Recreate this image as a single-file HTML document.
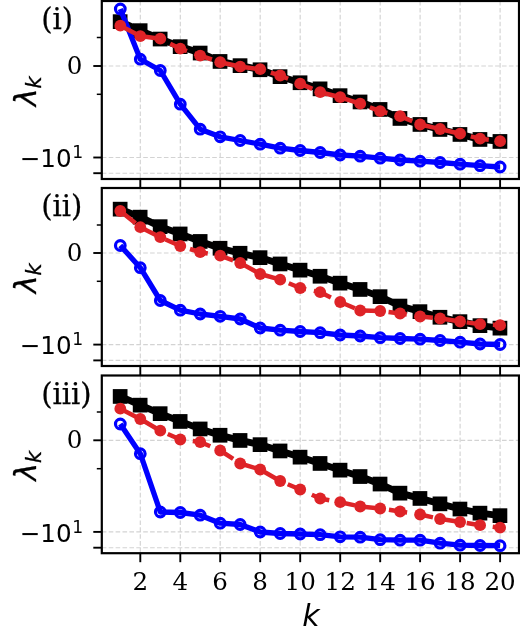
<!DOCTYPE html>
<html lang="en"><head><meta charset="utf-8"><title>lambda_k vs k</title>
<style>
html,body{margin:0;padding:0;background:#fff;}
body{width:520px;height:626px;overflow:hidden;}
svg{display:block;}
.sans{font-family:"DejaVu Sans","Liberation Sans",sans-serif;}
.serif{font-family:"DejaVu Serif","Liberation Serif",serif;}
.it{font-style:italic;}
</style></head><body>
<svg width="520" height="626" viewBox="0 0 520 626">
<rect width="520" height="626" fill="#fff"/>

<g id="panel1">
<line x1="140.3" y1="1.0" x2="140.3" y2="179.0" stroke="#d3d3d3" stroke-width="1.15" stroke-dasharray="4.6 2.3" fill="none"/>
<line x1="180.3" y1="1.0" x2="180.3" y2="179.0" stroke="#d3d3d3" stroke-width="1.15" stroke-dasharray="4.6 2.3" fill="none"/>
<line x1="220.2" y1="1.0" x2="220.2" y2="179.0" stroke="#d3d3d3" stroke-width="1.15" stroke-dasharray="4.6 2.3" fill="none"/>
<line x1="260.2" y1="1.0" x2="260.2" y2="179.0" stroke="#d3d3d3" stroke-width="1.15" stroke-dasharray="4.6 2.3" fill="none"/>
<line x1="300.2" y1="1.0" x2="300.2" y2="179.0" stroke="#d3d3d3" stroke-width="1.15" stroke-dasharray="4.6 2.3" fill="none"/>
<line x1="340.2" y1="1.0" x2="340.2" y2="179.0" stroke="#d3d3d3" stroke-width="1.15" stroke-dasharray="4.6 2.3" fill="none"/>
<line x1="380.2" y1="1.0" x2="380.2" y2="179.0" stroke="#d3d3d3" stroke-width="1.15" stroke-dasharray="4.6 2.3" fill="none"/>
<line x1="420.1" y1="1.0" x2="420.1" y2="179.0" stroke="#d3d3d3" stroke-width="1.15" stroke-dasharray="4.6 2.3" fill="none"/>
<line x1="460.1" y1="1.0" x2="460.1" y2="179.0" stroke="#d3d3d3" stroke-width="1.15" stroke-dasharray="4.6 2.3" fill="none"/>
<line x1="500.1" y1="1.0" x2="500.1" y2="179.0" stroke="#d3d3d3" stroke-width="1.15" stroke-dasharray="4.6 2.3" fill="none"/>
<line x1="101.8" y1="66.0" x2="519.0" y2="66.0" stroke="#d3d3d3" stroke-width="1.15" stroke-dasharray="4.6 2.3" fill="none"/>
<line x1="101.8" y1="157.5" x2="519.0" y2="157.5" stroke="#d3d3d3" stroke-width="1.15" stroke-dasharray="4.6 2.3" fill="none"/>
<line x1="101.8" y1="173.2" x2="519.0" y2="173.2" stroke="#d3d3d3" stroke-width="1.15" stroke-dasharray="4.6 2.3" fill="none"/>
<polyline points="120.3,21.6 140.3,30.6 160.3,39.0 180.3,46.6 200.2,53.0 220.2,61.4 240.2,65.6 260.2,69.7 280.2,76.6 300.2,82.7 320.2,88.8 340.2,95.6 360.2,101.9 380.2,109.4 400.1,118.4 420.1,124.4 440.1,129.4 460.1,134.4 480.1,139.4 500.1,141.4" fill="none" stroke="#000" stroke-width="6.8" stroke-linejoin="round"/>
<rect x="112.8" y="14.3" width="14.7" height="14.7" fill="#000"/>
<rect x="132.8" y="23.3" width="14.7" height="14.7" fill="#000"/>
<rect x="152.8" y="31.7" width="14.7" height="14.7" fill="#000"/>
<rect x="172.8" y="39.3" width="14.7" height="14.7" fill="#000"/>
<rect x="192.8" y="45.7" width="14.7" height="14.7" fill="#000"/>
<rect x="212.7" y="54.1" width="14.7" height="14.7" fill="#000"/>
<rect x="232.7" y="58.3" width="14.7" height="14.7" fill="#000"/>
<rect x="252.7" y="62.4" width="14.7" height="14.7" fill="#000"/>
<rect x="272.7" y="69.3" width="14.7" height="14.7" fill="#000"/>
<rect x="292.7" y="75.4" width="14.7" height="14.7" fill="#000"/>
<rect x="312.7" y="81.5" width="14.7" height="14.7" fill="#000"/>
<rect x="332.7" y="88.3" width="14.7" height="14.7" fill="#000"/>
<rect x="352.7" y="94.6" width="14.7" height="14.7" fill="#000"/>
<rect x="372.7" y="102.1" width="14.7" height="14.7" fill="#000"/>
<rect x="392.6" y="111.1" width="14.7" height="14.7" fill="#000"/>
<rect x="412.6" y="117.1" width="14.7" height="14.7" fill="#000"/>
<rect x="432.6" y="122.1" width="14.7" height="14.7" fill="#000"/>
<rect x="452.6" y="127.1" width="14.7" height="14.7" fill="#000"/>
<rect x="472.6" y="132.1" width="14.7" height="14.7" fill="#000"/>
<rect x="492.6" y="134.1" width="14.7" height="14.7" fill="#000"/>
<polyline points="120.3,9.0 140.3,59.2 160.3,70.5 180.3,104.2 200.2,129.2 220.2,136.8 240.2,140.5 260.2,144.2 280.2,148.2 300.2,150.5 320.2,152.5 340.2,155.0 360.2,156.2 380.2,158.2 400.1,160.0 420.1,161.2 440.1,162.5 460.1,164.2 480.1,165.7 500.1,167.0" fill="none" stroke="#0000ff" stroke-width="5.3" stroke-linejoin="round"/>
<circle cx="120.3" cy="9.0" r="4.8" fill="none" stroke="#0000ff" stroke-width="3.2"/>
<circle cx="140.3" cy="59.2" r="4.8" fill="none" stroke="#0000ff" stroke-width="3.2"/>
<circle cx="160.3" cy="70.5" r="4.8" fill="none" stroke="#0000ff" stroke-width="3.2"/>
<circle cx="180.3" cy="104.2" r="4.8" fill="none" stroke="#0000ff" stroke-width="3.2"/>
<circle cx="200.2" cy="129.2" r="4.8" fill="none" stroke="#0000ff" stroke-width="3.2"/>
<circle cx="220.2" cy="136.8" r="4.8" fill="none" stroke="#0000ff" stroke-width="3.2"/>
<circle cx="240.2" cy="140.5" r="4.8" fill="none" stroke="#0000ff" stroke-width="3.2"/>
<circle cx="260.2" cy="144.2" r="4.8" fill="none" stroke="#0000ff" stroke-width="3.2"/>
<circle cx="280.2" cy="148.2" r="4.8" fill="none" stroke="#0000ff" stroke-width="3.2"/>
<circle cx="300.2" cy="150.5" r="4.8" fill="none" stroke="#0000ff" stroke-width="3.2"/>
<circle cx="320.2" cy="152.5" r="4.8" fill="none" stroke="#0000ff" stroke-width="3.2"/>
<circle cx="340.2" cy="155.0" r="4.8" fill="none" stroke="#0000ff" stroke-width="3.2"/>
<circle cx="360.2" cy="156.2" r="4.8" fill="none" stroke="#0000ff" stroke-width="3.2"/>
<circle cx="380.2" cy="158.2" r="4.8" fill="none" stroke="#0000ff" stroke-width="3.2"/>
<circle cx="400.1" cy="160.0" r="4.8" fill="none" stroke="#0000ff" stroke-width="3.2"/>
<circle cx="420.1" cy="161.2" r="4.8" fill="none" stroke="#0000ff" stroke-width="3.2"/>
<circle cx="440.1" cy="162.5" r="4.8" fill="none" stroke="#0000ff" stroke-width="3.2"/>
<circle cx="460.1" cy="164.2" r="4.8" fill="none" stroke="#0000ff" stroke-width="3.2"/>
<circle cx="480.1" cy="165.7" r="4.8" fill="none" stroke="#0000ff" stroke-width="3.2"/>
<circle cx="500.1" cy="167.0" r="4.8" fill="none" stroke="#0000ff" stroke-width="3.2"/>
<polyline points="120.3,25.7 140.3,36.2 160.3,38.7 180.3,48.7 200.2,55.7 220.2,62.2 240.2,66.7 260.2,69.2 280.2,75.5 300.2,83.7 320.2,92.2 340.2,97.2 360.2,103.7 380.2,111.2 400.1,116.2 420.1,124.5 440.1,129.0 460.1,133.7 480.1,138.7 500.1,141.2" fill="none" stroke="#de2327" stroke-width="4.5" stroke-dasharray="18.4 7.9" stroke-dashoffset="-1.2" stroke-linejoin="round"/>
<circle cx="120.3" cy="25.7" r="5.9" fill="#de2327"/>
<circle cx="140.3" cy="36.2" r="5.9" fill="#de2327"/>
<circle cx="160.3" cy="38.7" r="5.9" fill="#de2327"/>
<circle cx="180.3" cy="48.7" r="5.9" fill="#de2327"/>
<circle cx="200.2" cy="55.7" r="5.9" fill="#de2327"/>
<circle cx="220.2" cy="62.2" r="5.9" fill="#de2327"/>
<circle cx="240.2" cy="66.7" r="5.9" fill="#de2327"/>
<circle cx="260.2" cy="69.2" r="5.9" fill="#de2327"/>
<circle cx="280.2" cy="75.5" r="5.9" fill="#de2327"/>
<circle cx="300.2" cy="83.7" r="5.9" fill="#de2327"/>
<circle cx="320.2" cy="92.2" r="5.9" fill="#de2327"/>
<circle cx="340.2" cy="97.2" r="5.9" fill="#de2327"/>
<circle cx="360.2" cy="103.7" r="5.9" fill="#de2327"/>
<circle cx="380.2" cy="111.2" r="5.9" fill="#de2327"/>
<circle cx="400.1" cy="116.2" r="5.9" fill="#de2327"/>
<circle cx="420.1" cy="124.5" r="5.9" fill="#de2327"/>
<circle cx="440.1" cy="129.0" r="5.9" fill="#de2327"/>
<circle cx="460.1" cy="133.7" r="5.9" fill="#de2327"/>
<circle cx="480.1" cy="138.7" r="5.9" fill="#de2327"/>
<circle cx="500.1" cy="141.2" r="5.9" fill="#de2327"/>
<rect x="101.8" y="1.0" width="417.2" height="178.0" fill="none" stroke="#000" stroke-width="2.2"/>
<line x1="93.3" y1="66.0" x2="101.8" y2="66.0" stroke="#000" stroke-width="1.9"/>
<line x1="93.3" y1="157.5" x2="101.8" y2="157.5" stroke="#000" stroke-width="1.9"/>
<line x1="93.3" y1="173.2" x2="101.8" y2="173.2" stroke="#000" stroke-width="1.9"/>
<line x1="96.8" y1="37.5" x2="101.8" y2="37.5" stroke="#000" stroke-width="1.5"/>
<line x1="96.8" y1="94.3" x2="101.8" y2="94.3" stroke="#000" stroke-width="1.5"/>
<line x1="140.3" y1="179.0" x2="140.3" y2="188.0" stroke="#000" stroke-width="1.9"/>
<line x1="180.3" y1="179.0" x2="180.3" y2="188.0" stroke="#000" stroke-width="1.9"/>
<line x1="220.2" y1="179.0" x2="220.2" y2="188.0" stroke="#000" stroke-width="1.9"/>
<line x1="260.2" y1="179.0" x2="260.2" y2="188.0" stroke="#000" stroke-width="1.9"/>
<line x1="300.2" y1="179.0" x2="300.2" y2="188.0" stroke="#000" stroke-width="1.9"/>
<line x1="340.2" y1="179.0" x2="340.2" y2="188.0" stroke="#000" stroke-width="1.9"/>
<line x1="380.2" y1="179.0" x2="380.2" y2="188.0" stroke="#000" stroke-width="1.9"/>
<line x1="420.1" y1="179.0" x2="420.1" y2="188.0" stroke="#000" stroke-width="1.9"/>
<line x1="460.1" y1="179.0" x2="460.1" y2="188.0" stroke="#000" stroke-width="1.9"/>
<line x1="500.1" y1="179.0" x2="500.1" y2="188.0" stroke="#000" stroke-width="1.9"/>
<text class="serif" x="82.3" y="73.7" font-size="24.6" text-anchor="end">0</text>
<text class="sans" x="71.6" y="167.2" font-size="24.6" text-anchor="end">−10</text>
<text class="sans" x="72.2" y="158.1" font-size="17.2">1</text>
<text class="serif" x="41.2" y="29.0" font-size="29" stroke="#000" stroke-width="0.25">(i)</text>
<text class="sans it" transform="translate(36.2,106.2) rotate(-90)" font-size="30" stroke="#000" stroke-width="0.3">λ<tspan font-size="21" dy="4.8">k</tspan></text>
</g>
<g id="panel2">
<line x1="140.3" y1="188.0" x2="140.3" y2="366.0" stroke="#d3d3d3" stroke-width="1.15" stroke-dasharray="4.6 2.3" fill="none"/>
<line x1="180.3" y1="188.0" x2="180.3" y2="366.0" stroke="#d3d3d3" stroke-width="1.15" stroke-dasharray="4.6 2.3" fill="none"/>
<line x1="220.2" y1="188.0" x2="220.2" y2="366.0" stroke="#d3d3d3" stroke-width="1.15" stroke-dasharray="4.6 2.3" fill="none"/>
<line x1="260.2" y1="188.0" x2="260.2" y2="366.0" stroke="#d3d3d3" stroke-width="1.15" stroke-dasharray="4.6 2.3" fill="none"/>
<line x1="300.2" y1="188.0" x2="300.2" y2="366.0" stroke="#d3d3d3" stroke-width="1.15" stroke-dasharray="4.6 2.3" fill="none"/>
<line x1="340.2" y1="188.0" x2="340.2" y2="366.0" stroke="#d3d3d3" stroke-width="1.15" stroke-dasharray="4.6 2.3" fill="none"/>
<line x1="380.2" y1="188.0" x2="380.2" y2="366.0" stroke="#d3d3d3" stroke-width="1.15" stroke-dasharray="4.6 2.3" fill="none"/>
<line x1="420.1" y1="188.0" x2="420.1" y2="366.0" stroke="#d3d3d3" stroke-width="1.15" stroke-dasharray="4.6 2.3" fill="none"/>
<line x1="460.1" y1="188.0" x2="460.1" y2="366.0" stroke="#d3d3d3" stroke-width="1.15" stroke-dasharray="4.6 2.3" fill="none"/>
<line x1="500.1" y1="188.0" x2="500.1" y2="366.0" stroke="#d3d3d3" stroke-width="1.15" stroke-dasharray="4.6 2.3" fill="none"/>
<line x1="101.8" y1="253.0" x2="519.0" y2="253.0" stroke="#d3d3d3" stroke-width="1.15" stroke-dasharray="4.6 2.3" fill="none"/>
<line x1="101.8" y1="344.6" x2="519.0" y2="344.6" stroke="#d3d3d3" stroke-width="1.15" stroke-dasharray="4.6 2.3" fill="none"/>
<line x1="101.8" y1="360.4" x2="519.0" y2="360.4" stroke="#d3d3d3" stroke-width="1.15" stroke-dasharray="4.6 2.3" fill="none"/>
<polyline points="120.3,209.1 140.3,217.1 160.3,226.6 180.3,233.9 200.2,241.4 220.2,248.2 240.2,253.2 260.2,257.6 280.2,263.9 300.2,270.1 320.2,276.2 340.2,283.1 360.2,289.4 380.2,296.6 400.1,306.0 420.1,311.6 440.1,317.2 460.1,321.6 480.1,325.6 500.1,328.1" fill="none" stroke="#000" stroke-width="6.8" stroke-linejoin="round"/>
<rect x="112.8" y="201.8" width="14.7" height="14.7" fill="#000"/>
<rect x="132.8" y="209.8" width="14.7" height="14.7" fill="#000"/>
<rect x="152.8" y="219.3" width="14.7" height="14.7" fill="#000"/>
<rect x="172.8" y="226.6" width="14.7" height="14.7" fill="#000"/>
<rect x="192.8" y="234.1" width="14.7" height="14.7" fill="#000"/>
<rect x="212.7" y="240.9" width="14.7" height="14.7" fill="#000"/>
<rect x="232.7" y="245.9" width="14.7" height="14.7" fill="#000"/>
<rect x="252.7" y="250.3" width="14.7" height="14.7" fill="#000"/>
<rect x="272.7" y="256.6" width="14.7" height="14.7" fill="#000"/>
<rect x="292.7" y="262.8" width="14.7" height="14.7" fill="#000"/>
<rect x="312.7" y="268.9" width="14.7" height="14.7" fill="#000"/>
<rect x="332.7" y="275.8" width="14.7" height="14.7" fill="#000"/>
<rect x="352.7" y="282.1" width="14.7" height="14.7" fill="#000"/>
<rect x="372.7" y="289.3" width="14.7" height="14.7" fill="#000"/>
<rect x="392.6" y="298.7" width="14.7" height="14.7" fill="#000"/>
<rect x="412.6" y="304.3" width="14.7" height="14.7" fill="#000"/>
<rect x="432.6" y="309.9" width="14.7" height="14.7" fill="#000"/>
<rect x="452.6" y="314.3" width="14.7" height="14.7" fill="#000"/>
<rect x="472.6" y="318.3" width="14.7" height="14.7" fill="#000"/>
<rect x="492.6" y="320.8" width="14.7" height="14.7" fill="#000"/>
<polyline points="120.3,245.5 140.3,267.7 160.3,300.5 180.3,310.2 200.2,314.0 220.2,316.3 240.2,319.0 260.2,328.0 280.2,330.2 300.2,331.5 320.2,332.7 340.2,335.0 360.2,336.0 380.2,337.7 400.1,338.5 420.1,339.2 440.1,340.5 460.1,342.2 480.1,344.0 500.1,344.5" fill="none" stroke="#0000ff" stroke-width="5.3" stroke-linejoin="round"/>
<circle cx="120.3" cy="245.5" r="4.8" fill="none" stroke="#0000ff" stroke-width="3.2"/>
<circle cx="140.3" cy="267.7" r="4.8" fill="none" stroke="#0000ff" stroke-width="3.2"/>
<circle cx="160.3" cy="300.5" r="4.8" fill="none" stroke="#0000ff" stroke-width="3.2"/>
<circle cx="180.3" cy="310.2" r="4.8" fill="none" stroke="#0000ff" stroke-width="3.2"/>
<circle cx="200.2" cy="314.0" r="4.8" fill="none" stroke="#0000ff" stroke-width="3.2"/>
<circle cx="220.2" cy="316.3" r="4.8" fill="none" stroke="#0000ff" stroke-width="3.2"/>
<circle cx="240.2" cy="319.0" r="4.8" fill="none" stroke="#0000ff" stroke-width="3.2"/>
<circle cx="260.2" cy="328.0" r="4.8" fill="none" stroke="#0000ff" stroke-width="3.2"/>
<circle cx="280.2" cy="330.2" r="4.8" fill="none" stroke="#0000ff" stroke-width="3.2"/>
<circle cx="300.2" cy="331.5" r="4.8" fill="none" stroke="#0000ff" stroke-width="3.2"/>
<circle cx="320.2" cy="332.7" r="4.8" fill="none" stroke="#0000ff" stroke-width="3.2"/>
<circle cx="340.2" cy="335.0" r="4.8" fill="none" stroke="#0000ff" stroke-width="3.2"/>
<circle cx="360.2" cy="336.0" r="4.8" fill="none" stroke="#0000ff" stroke-width="3.2"/>
<circle cx="380.2" cy="337.7" r="4.8" fill="none" stroke="#0000ff" stroke-width="3.2"/>
<circle cx="400.1" cy="338.5" r="4.8" fill="none" stroke="#0000ff" stroke-width="3.2"/>
<circle cx="420.1" cy="339.2" r="4.8" fill="none" stroke="#0000ff" stroke-width="3.2"/>
<circle cx="440.1" cy="340.5" r="4.8" fill="none" stroke="#0000ff" stroke-width="3.2"/>
<circle cx="460.1" cy="342.2" r="4.8" fill="none" stroke="#0000ff" stroke-width="3.2"/>
<circle cx="480.1" cy="344.0" r="4.8" fill="none" stroke="#0000ff" stroke-width="3.2"/>
<circle cx="500.1" cy="344.5" r="4.8" fill="none" stroke="#0000ff" stroke-width="3.2"/>
<polyline points="120.3,211.0 140.3,227.2 160.3,237.2 180.3,246.0 200.2,252.2 220.2,255.7 240.2,263.0 260.2,274.0 280.2,279.7 300.2,288.0 320.2,292.2 340.2,302.0 360.2,310.5 380.2,311.0 400.1,313.5 420.1,316.5 440.1,318.5 460.1,321.5 480.1,324.2 500.1,325.2" fill="none" stroke="#de2327" stroke-width="4.5" stroke-dasharray="18.4 7.9" stroke-dashoffset="-1.2" stroke-linejoin="round"/>
<circle cx="120.3" cy="211.0" r="5.9" fill="#de2327"/>
<circle cx="140.3" cy="227.2" r="5.9" fill="#de2327"/>
<circle cx="160.3" cy="237.2" r="5.9" fill="#de2327"/>
<circle cx="180.3" cy="246.0" r="5.9" fill="#de2327"/>
<circle cx="200.2" cy="252.2" r="5.9" fill="#de2327"/>
<circle cx="220.2" cy="255.7" r="5.9" fill="#de2327"/>
<circle cx="240.2" cy="263.0" r="5.9" fill="#de2327"/>
<circle cx="260.2" cy="274.0" r="5.9" fill="#de2327"/>
<circle cx="280.2" cy="279.7" r="5.9" fill="#de2327"/>
<circle cx="300.2" cy="288.0" r="5.9" fill="#de2327"/>
<circle cx="320.2" cy="292.2" r="5.9" fill="#de2327"/>
<circle cx="340.2" cy="302.0" r="5.9" fill="#de2327"/>
<circle cx="360.2" cy="310.5" r="5.9" fill="#de2327"/>
<circle cx="380.2" cy="311.0" r="5.9" fill="#de2327"/>
<circle cx="400.1" cy="313.5" r="5.9" fill="#de2327"/>
<circle cx="420.1" cy="316.5" r="5.9" fill="#de2327"/>
<circle cx="440.1" cy="318.5" r="5.9" fill="#de2327"/>
<circle cx="460.1" cy="321.5" r="5.9" fill="#de2327"/>
<circle cx="480.1" cy="324.2" r="5.9" fill="#de2327"/>
<circle cx="500.1" cy="325.2" r="5.9" fill="#de2327"/>
<rect x="101.8" y="188.0" width="417.2" height="178.0" fill="none" stroke="#000" stroke-width="2.2"/>
<line x1="93.3" y1="253.0" x2="101.8" y2="253.0" stroke="#000" stroke-width="1.9"/>
<line x1="93.3" y1="344.6" x2="101.8" y2="344.6" stroke="#000" stroke-width="1.9"/>
<line x1="93.3" y1="360.4" x2="101.8" y2="360.4" stroke="#000" stroke-width="1.9"/>
<line x1="96.8" y1="225.0" x2="101.8" y2="225.0" stroke="#000" stroke-width="1.5"/>
<line x1="96.8" y1="281.3" x2="101.8" y2="281.3" stroke="#000" stroke-width="1.5"/>
<line x1="140.3" y1="366.0" x2="140.3" y2="375.0" stroke="#000" stroke-width="1.9"/>
<line x1="180.3" y1="366.0" x2="180.3" y2="375.0" stroke="#000" stroke-width="1.9"/>
<line x1="220.2" y1="366.0" x2="220.2" y2="375.0" stroke="#000" stroke-width="1.9"/>
<line x1="260.2" y1="366.0" x2="260.2" y2="375.0" stroke="#000" stroke-width="1.9"/>
<line x1="300.2" y1="366.0" x2="300.2" y2="375.0" stroke="#000" stroke-width="1.9"/>
<line x1="340.2" y1="366.0" x2="340.2" y2="375.0" stroke="#000" stroke-width="1.9"/>
<line x1="380.2" y1="366.0" x2="380.2" y2="375.0" stroke="#000" stroke-width="1.9"/>
<line x1="420.1" y1="366.0" x2="420.1" y2="375.0" stroke="#000" stroke-width="1.9"/>
<line x1="460.1" y1="366.0" x2="460.1" y2="375.0" stroke="#000" stroke-width="1.9"/>
<line x1="500.1" y1="366.0" x2="500.1" y2="375.0" stroke="#000" stroke-width="1.9"/>
<text class="serif" x="82.3" y="260.7" font-size="24.6" text-anchor="end">0</text>
<text class="sans" x="71.6" y="354.3" font-size="24.6" text-anchor="end">−10</text>
<text class="sans" x="72.2" y="345.2" font-size="17.2">1</text>
<text class="serif" x="41.2" y="216.0" font-size="29" stroke="#000" stroke-width="0.25">(ii)</text>
<text class="sans it" transform="translate(36.2,293.2) rotate(-90)" font-size="30" stroke="#000" stroke-width="0.3">λ<tspan font-size="21" dy="4.8">k</tspan></text>
</g>
<g id="panel3">
<line x1="140.3" y1="375.5" x2="140.3" y2="553.2" stroke="#d3d3d3" stroke-width="1.15" stroke-dasharray="4.6 2.3" fill="none"/>
<line x1="180.3" y1="375.5" x2="180.3" y2="553.2" stroke="#d3d3d3" stroke-width="1.15" stroke-dasharray="4.6 2.3" fill="none"/>
<line x1="220.2" y1="375.5" x2="220.2" y2="553.2" stroke="#d3d3d3" stroke-width="1.15" stroke-dasharray="4.6 2.3" fill="none"/>
<line x1="260.2" y1="375.5" x2="260.2" y2="553.2" stroke="#d3d3d3" stroke-width="1.15" stroke-dasharray="4.6 2.3" fill="none"/>
<line x1="300.2" y1="375.5" x2="300.2" y2="553.2" stroke="#d3d3d3" stroke-width="1.15" stroke-dasharray="4.6 2.3" fill="none"/>
<line x1="340.2" y1="375.5" x2="340.2" y2="553.2" stroke="#d3d3d3" stroke-width="1.15" stroke-dasharray="4.6 2.3" fill="none"/>
<line x1="380.2" y1="375.5" x2="380.2" y2="553.2" stroke="#d3d3d3" stroke-width="1.15" stroke-dasharray="4.6 2.3" fill="none"/>
<line x1="420.1" y1="375.5" x2="420.1" y2="553.2" stroke="#d3d3d3" stroke-width="1.15" stroke-dasharray="4.6 2.3" fill="none"/>
<line x1="460.1" y1="375.5" x2="460.1" y2="553.2" stroke="#d3d3d3" stroke-width="1.15" stroke-dasharray="4.6 2.3" fill="none"/>
<line x1="500.1" y1="375.5" x2="500.1" y2="553.2" stroke="#d3d3d3" stroke-width="1.15" stroke-dasharray="4.6 2.3" fill="none"/>
<line x1="101.8" y1="440.3" x2="519.0" y2="440.3" stroke="#d3d3d3" stroke-width="1.15" stroke-dasharray="4.6 2.3" fill="none"/>
<line x1="101.8" y1="531.9" x2="519.0" y2="531.9" stroke="#d3d3d3" stroke-width="1.15" stroke-dasharray="4.6 2.3" fill="none"/>
<line x1="101.8" y1="547.7" x2="519.0" y2="547.7" stroke="#d3d3d3" stroke-width="1.15" stroke-dasharray="4.6 2.3" fill="none"/>
<polyline points="120.3,396.4 140.3,405.1 160.3,413.6 180.3,421.4 200.2,428.9 220.2,435.2 240.2,440.4 260.2,444.6 280.2,450.9 300.2,457.1 320.2,463.4 340.2,470.1 360.2,476.5 380.2,484.0 400.1,493.1 420.1,498.4 440.1,503.8 460.1,509.0 480.1,513.1 500.1,515.6" fill="none" stroke="#000" stroke-width="6.8" stroke-linejoin="round"/>
<rect x="112.8" y="389.1" width="14.7" height="14.7" fill="#000"/>
<rect x="132.8" y="397.8" width="14.7" height="14.7" fill="#000"/>
<rect x="152.8" y="406.3" width="14.7" height="14.7" fill="#000"/>
<rect x="172.8" y="414.1" width="14.7" height="14.7" fill="#000"/>
<rect x="192.8" y="421.6" width="14.7" height="14.7" fill="#000"/>
<rect x="212.7" y="427.9" width="14.7" height="14.7" fill="#000"/>
<rect x="232.7" y="433.1" width="14.7" height="14.7" fill="#000"/>
<rect x="252.7" y="437.3" width="14.7" height="14.7" fill="#000"/>
<rect x="272.7" y="443.6" width="14.7" height="14.7" fill="#000"/>
<rect x="292.7" y="449.8" width="14.7" height="14.7" fill="#000"/>
<rect x="312.7" y="456.1" width="14.7" height="14.7" fill="#000"/>
<rect x="332.7" y="462.8" width="14.7" height="14.7" fill="#000"/>
<rect x="352.7" y="469.2" width="14.7" height="14.7" fill="#000"/>
<rect x="372.7" y="476.7" width="14.7" height="14.7" fill="#000"/>
<rect x="392.6" y="485.8" width="14.7" height="14.7" fill="#000"/>
<rect x="412.6" y="491.1" width="14.7" height="14.7" fill="#000"/>
<rect x="432.6" y="496.5" width="14.7" height="14.7" fill="#000"/>
<rect x="452.6" y="501.7" width="14.7" height="14.7" fill="#000"/>
<rect x="472.6" y="505.8" width="14.7" height="14.7" fill="#000"/>
<rect x="492.6" y="508.3" width="14.7" height="14.7" fill="#000"/>
<polyline points="120.3,424.0 140.3,453.7 160.3,512.0 180.3,512.5 200.2,515.2 220.2,523.2 240.2,524.5 260.2,532.0 280.2,533.5 300.2,534.0 320.2,534.7 340.2,536.8 360.2,537.2 380.2,539.7 400.1,540.2 420.1,540.2 440.1,543.2 460.1,545.2 480.1,545.5 500.1,545.7" fill="none" stroke="#0000ff" stroke-width="5.3" stroke-linejoin="round"/>
<circle cx="120.3" cy="424.0" r="4.8" fill="none" stroke="#0000ff" stroke-width="3.2"/>
<circle cx="140.3" cy="453.7" r="4.8" fill="none" stroke="#0000ff" stroke-width="3.2"/>
<circle cx="160.3" cy="512.0" r="4.8" fill="none" stroke="#0000ff" stroke-width="3.2"/>
<circle cx="180.3" cy="512.5" r="4.8" fill="none" stroke="#0000ff" stroke-width="3.2"/>
<circle cx="200.2" cy="515.2" r="4.8" fill="none" stroke="#0000ff" stroke-width="3.2"/>
<circle cx="220.2" cy="523.2" r="4.8" fill="none" stroke="#0000ff" stroke-width="3.2"/>
<circle cx="240.2" cy="524.5" r="4.8" fill="none" stroke="#0000ff" stroke-width="3.2"/>
<circle cx="260.2" cy="532.0" r="4.8" fill="none" stroke="#0000ff" stroke-width="3.2"/>
<circle cx="280.2" cy="533.5" r="4.8" fill="none" stroke="#0000ff" stroke-width="3.2"/>
<circle cx="300.2" cy="534.0" r="4.8" fill="none" stroke="#0000ff" stroke-width="3.2"/>
<circle cx="320.2" cy="534.7" r="4.8" fill="none" stroke="#0000ff" stroke-width="3.2"/>
<circle cx="340.2" cy="536.8" r="4.8" fill="none" stroke="#0000ff" stroke-width="3.2"/>
<circle cx="360.2" cy="537.2" r="4.8" fill="none" stroke="#0000ff" stroke-width="3.2"/>
<circle cx="380.2" cy="539.7" r="4.8" fill="none" stroke="#0000ff" stroke-width="3.2"/>
<circle cx="400.1" cy="540.2" r="4.8" fill="none" stroke="#0000ff" stroke-width="3.2"/>
<circle cx="420.1" cy="540.2" r="4.8" fill="none" stroke="#0000ff" stroke-width="3.2"/>
<circle cx="440.1" cy="543.2" r="4.8" fill="none" stroke="#0000ff" stroke-width="3.2"/>
<circle cx="460.1" cy="545.2" r="4.8" fill="none" stroke="#0000ff" stroke-width="3.2"/>
<circle cx="480.1" cy="545.5" r="4.8" fill="none" stroke="#0000ff" stroke-width="3.2"/>
<circle cx="500.1" cy="545.7" r="4.8" fill="none" stroke="#0000ff" stroke-width="3.2"/>
<polyline points="120.3,408.7 140.3,419.0 160.3,430.7 180.3,439.5 200.2,442.0 220.2,450.5 240.2,463.5 260.2,469.5 280.2,481.0 300.2,489.5 320.2,498.5 340.2,502.2 360.2,506.5 380.2,508.5 400.1,511.5 420.1,514.5 440.1,519.0 460.1,522.0 480.1,525.2 500.1,527.7" fill="none" stroke="#de2327" stroke-width="4.5" stroke-dasharray="18.4 7.9" stroke-dashoffset="-1.2" stroke-linejoin="round"/>
<circle cx="120.3" cy="408.7" r="5.9" fill="#de2327"/>
<circle cx="140.3" cy="419.0" r="5.9" fill="#de2327"/>
<circle cx="160.3" cy="430.7" r="5.9" fill="#de2327"/>
<circle cx="180.3" cy="439.5" r="5.9" fill="#de2327"/>
<circle cx="200.2" cy="442.0" r="5.9" fill="#de2327"/>
<circle cx="220.2" cy="450.5" r="5.9" fill="#de2327"/>
<circle cx="240.2" cy="463.5" r="5.9" fill="#de2327"/>
<circle cx="260.2" cy="469.5" r="5.9" fill="#de2327"/>
<circle cx="280.2" cy="481.0" r="5.9" fill="#de2327"/>
<circle cx="300.2" cy="489.5" r="5.9" fill="#de2327"/>
<circle cx="320.2" cy="498.5" r="5.9" fill="#de2327"/>
<circle cx="340.2" cy="502.2" r="5.9" fill="#de2327"/>
<circle cx="360.2" cy="506.5" r="5.9" fill="#de2327"/>
<circle cx="380.2" cy="508.5" r="5.9" fill="#de2327"/>
<circle cx="400.1" cy="511.5" r="5.9" fill="#de2327"/>
<circle cx="420.1" cy="514.5" r="5.9" fill="#de2327"/>
<circle cx="440.1" cy="519.0" r="5.9" fill="#de2327"/>
<circle cx="460.1" cy="522.0" r="5.9" fill="#de2327"/>
<circle cx="480.1" cy="525.2" r="5.9" fill="#de2327"/>
<circle cx="500.1" cy="527.7" r="5.9" fill="#de2327"/>
<rect x="101.8" y="375.5" width="417.2" height="177.70000000000005" fill="none" stroke="#000" stroke-width="2.2"/>
<line x1="93.3" y1="440.3" x2="101.8" y2="440.3" stroke="#000" stroke-width="1.9"/>
<line x1="93.3" y1="531.9" x2="101.8" y2="531.9" stroke="#000" stroke-width="1.9"/>
<line x1="93.3" y1="547.7" x2="101.8" y2="547.7" stroke="#000" stroke-width="1.9"/>
<line x1="96.8" y1="412.0" x2="101.8" y2="412.0" stroke="#000" stroke-width="1.5"/>
<line x1="96.8" y1="468.7" x2="101.8" y2="468.7" stroke="#000" stroke-width="1.5"/>
<line x1="140.3" y1="553.2" x2="140.3" y2="562.2" stroke="#000" stroke-width="1.9"/>
<line x1="180.3" y1="553.2" x2="180.3" y2="562.2" stroke="#000" stroke-width="1.9"/>
<line x1="220.2" y1="553.2" x2="220.2" y2="562.2" stroke="#000" stroke-width="1.9"/>
<line x1="260.2" y1="553.2" x2="260.2" y2="562.2" stroke="#000" stroke-width="1.9"/>
<line x1="300.2" y1="553.2" x2="300.2" y2="562.2" stroke="#000" stroke-width="1.9"/>
<line x1="340.2" y1="553.2" x2="340.2" y2="562.2" stroke="#000" stroke-width="1.9"/>
<line x1="380.2" y1="553.2" x2="380.2" y2="562.2" stroke="#000" stroke-width="1.9"/>
<line x1="420.1" y1="553.2" x2="420.1" y2="562.2" stroke="#000" stroke-width="1.9"/>
<line x1="460.1" y1="553.2" x2="460.1" y2="562.2" stroke="#000" stroke-width="1.9"/>
<line x1="500.1" y1="553.2" x2="500.1" y2="562.2" stroke="#000" stroke-width="1.9"/>
<text class="serif" x="82.3" y="448.0" font-size="24.6" text-anchor="end">0</text>
<text class="sans" x="71.6" y="541.6" font-size="24.6" text-anchor="end">−10</text>
<text class="sans" x="72.2" y="532.5" font-size="17.2">1</text>
<text class="serif" x="41.2" y="403.5" font-size="29" stroke="#000" stroke-width="0.25">(iii)</text>
<text class="sans it" transform="translate(36.2,480.7) rotate(-90)" font-size="30" stroke="#000" stroke-width="0.3">λ<tspan font-size="21" dy="4.8">k</tspan></text>
</g>
<text class="serif" x="140.3" y="590" font-size="24.6" text-anchor="middle">2</text>
<text class="serif" x="180.3" y="590" font-size="24.6" text-anchor="middle">4</text>
<text class="serif" x="220.2" y="590" font-size="24.6" text-anchor="middle">6</text>
<text class="serif" x="260.2" y="590" font-size="24.6" text-anchor="middle">8</text>
<text class="serif" x="300.2" y="590" font-size="24.6" text-anchor="middle">10</text>
<text class="serif" x="340.2" y="590" font-size="24.6" text-anchor="middle">12</text>
<text class="serif" x="380.2" y="590" font-size="24.6" text-anchor="middle">14</text>
<text class="serif" x="420.1" y="590" font-size="24.6" text-anchor="middle">16</text>
<text class="serif" x="460.1" y="590" font-size="24.6" text-anchor="middle">18</text>
<text class="serif" x="500.1" y="590" font-size="24.6" text-anchor="middle">20</text>
<text class="sans it" x="311" y="626" font-size="30" text-anchor="middle">k</text>
</svg></body></html>
